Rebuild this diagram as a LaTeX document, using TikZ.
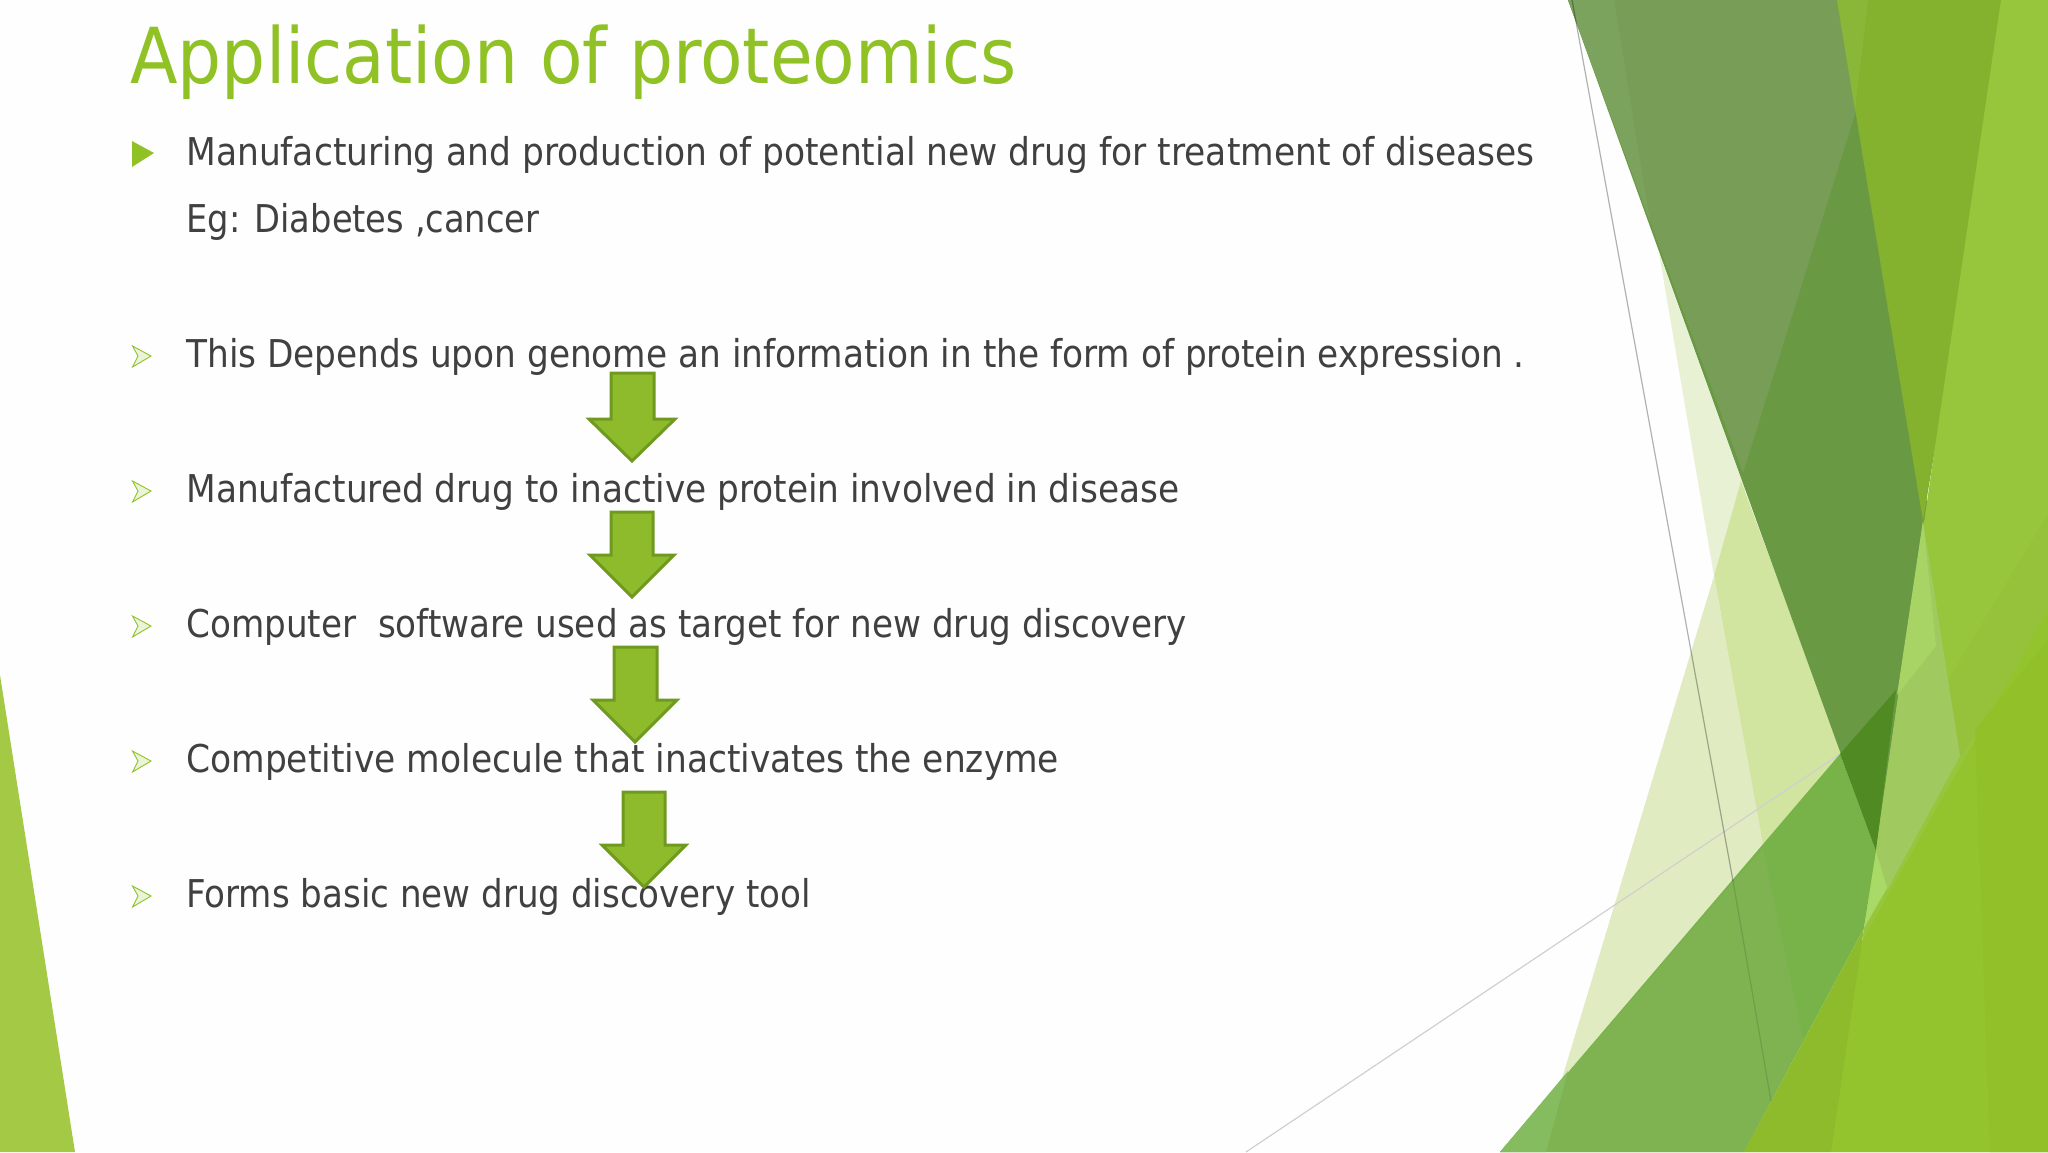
\documentclass[tikz,border=0pt]{standalone}
\usepackage{graphicx}
\usepackage{fontspec}
\setmainfont{DejaVu Sans Condensed}
\definecolor{ink}{HTML}{404040}
\definecolor{facet}{HTML}{90C226}
\definecolor{arrowfill}{HTML}{8DBB2B}
\definecolor{arrowline}{HTML}{6F9A1F}
\tikzset{
  x=0.5pt,y=-0.5pt,
  body/.style={anchor=base west,inner sep=0pt,text=ink,font=\fontsize{19.15}{24}\selectfont},
  ttl/.style={anchor=base west,inner sep=0pt,text=facet,font=\fontsize{38.6}{46}\selectfont},
  blockarrow/.style={fill=arrowfill,draw=arrowline,line width=1.5pt,line join=miter},
  hollowbullet/.style={fill=facet!18,draw=facet,line width=0.45pt,line join=miter},
  guide/.style={line width=0.6pt}
}
\newcommand{\bulletat}[2]{\path[hollowbullet] (132.5,#2-20) -- (151,#2-10) -- (132.5,#2+1) -- (138,#2-10) -- cycle;}
\begin{document}
\begin{tikzpicture}
\useasboundingbox (0,0) rectangle (2048,1152);
\fill[fill={rgb,255:red,254;green,254;blue,254}] (0,0) rectangle (2048,1152);
\clip (0,0) rectangle (2048,1152);
% left wedge
\fill[fill={rgb,255:red,163;green,201;blue,69}] (0,675) -- (75,1152) -- (0,1152) -- cycle;
% pale facets
\fill[fill={rgb,255:red,232;green,241;blue,212}] (1659,253) -- (1745,490) -- (1714,576) -- cycle;
\fill[fill={rgb,255:red,209;green,229;blue,160}] (1741,481) -- (1845,760) -- (1763,850) -- (1714,576) -- cycle;
\fill[fill={rgb,255:red,224;green,235;blue,193}] (1714,576) -- (1763,844) -- (1775,850) -- (1560,1085) -- cycle;
% thin line behind the greens
\draw[guide,draw={rgb,255:red,208;green,208;blue,208}] (1246,1152) -- (1840,754);
% dark facet
\fill[fill={rgb,255:red,106;green,153;blue,67}] (1568,0) -- (1845,0) -- (1930,521) -- (1876,851) -- cycle;
\fill[fill={rgb,255:red,120;green,157;blue,87}] (1568,0) -- (1837,0) -- (1856,111) -- (1743,473) -- cycle;
\fill[fill={rgb,255:red,124;green,163;blue,93}] (1568,0) -- (1614,0) -- (1650,222) -- cycle;
% mid green
\fill[fill={rgb,255:red,132;green,178;blue,46}] (1837,0) -- (2010,0) -- (1923,521) -- cycle;
\fill[fill={rgb,255:red,138;green,183;blue,56}] (1837,0) -- (1868,0) -- (1855,110) -- cycle;
% light right band
\fill[fill={rgb,255:red,151;green,198;blue,60}] (2001,0) -- (2048,0) -- (2048,1152) -- (1831,1152) -- cycle;
\fill[fill={rgb,255:red,150;green,194;blue,59}] (2048,514) -- (2048,640) -- (1960,756) -- (1948,680) -- cycle;
% green lower facet
\fill[fill={rgb,255:red,120;green,179;blue,74}] (1840,754) -- (1876,851) -- (1864,928) -- (1744,1152) -- (1500,1152) -- cycle;
\fill[fill={rgb,255:red,127;green,179;blue,82}] (1763,848) -- (1803,1040) -- (1744,1152) -- (1500,1152) -- cycle;
\fill[fill={rgb,255:red,133;green,188;blue,96}] (1568,1071) -- (1546,1152) -- (1500,1152) -- cycle;
\fill[fill={rgb,255:red,79;green,138;blue,34}] (1840,754) -- (1896,690) -- (1876,851) -- cycle;
% light overlays
\fill[fill={rgb,255:red,160;green,202;blue,95}] (1923,521) -- (1960,756) -- (1887,890) -- (1876,851) -- cycle;
\fill[fill={rgb,255:red,167;green,212;blue,101}] (1923,521) -- (1936,646) -- (1897,695) -- cycle;
\fill[fill={rgb,255:red,169;green,217;blue,102}] (1876,851) -- (1887,888) -- (1864,928) -- cycle;
% big bottom-right facet
\fill[fill={rgb,255:red,147;green,196;blue,45}] (2048,610) -- (2048,1152) -- (1744,1152) -- cycle;
\fill[fill={rgb,255:red,141;green,187;blue,43}] (1744,1152) -- (1831,1152) -- (1864,928) -- cycle;
\fill[fill={rgb,255:red,145;green,192;blue,41}] (2048,640) -- (2048,1152) -- (1990,1152) -- (1975,730) -- cycle;
% long grey line
\draw[guide,draw=black,draw opacity=0.3] (1572,0) -- (1733,881);
\draw[guide,draw=black,draw opacity=0.12] (1733,881) -- (1771,1101);
% title and body
\node[ttl] (title) at (130,83) {Application of proteomics};
\path[fill=facet] (132,141) -- (154,153) -- (132,167) -- cycle;
\node[body] (t1) at (186,165) {Manufacturing and production of potential new drug for treatment of diseases};
\node[body] (t1b) at (186,232) {\scalebox{.978}[1]{Eg: Diabetes ,cancer}};
\bulletat{b2}{366}
\node[body] (t2) at (186,367) {\scalebox{.996}[1]{This Depends upon genome an information in the form of protein expression .}};
\bulletat{b3}{501}
\node[body] (t3) at (186,502) {\scalebox{.997}[1]{Manufactured drug to inactive protein involved in disease}};
\bulletat{b4}{636}
\node[body] (t4) at (186,637) {\scalebox{.992}[1]{Computer\ \ software used as target for new drug discovery}};
\bulletat{b5}{771}
\node[body] (t5) at (186,772) {Competitive molecule that inactivates the enzyme};
\bulletat{b6}{906}
\node[body] (t6) at (186,907) {\scalebox{.99}[1]{Forms basic new drug discovery tool}};
% block arrows
\draw[blockarrow] (611,373) -- (654,373) -- (654,419) -- (675,419) -- (632,461) -- (589,419) -- (611,419) -- cycle;
\draw[blockarrow] (611,512) -- (653,512) -- (653,555) -- (674,555) -- (632,597) -- (590,555) -- (611,555) -- cycle;
\draw[blockarrow] (614,647) -- (657,647) -- (657,700) -- (677,700) -- (635,742) -- (593,700) -- (614,700) -- cycle;
\draw[blockarrow] (623,792) -- (665,792) -- (665,845) -- (686,845) -- (644,887) -- (602,845) -- (623,845) -- cycle;
\end{tikzpicture}
\end{document}
